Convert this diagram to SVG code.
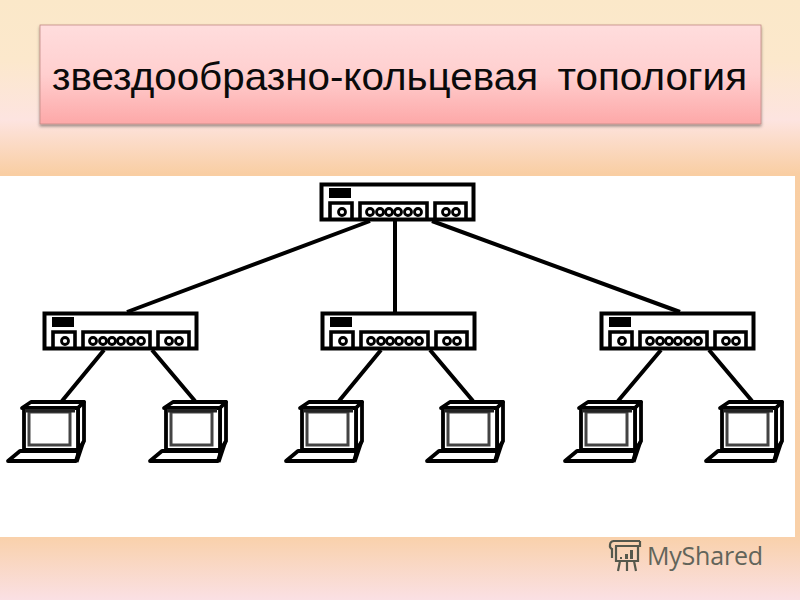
<svg xmlns="http://www.w3.org/2000/svg" xmlns:xlink="http://www.w3.org/1999/xlink" width="800" height="600" viewBox="0 0 800 600">
<style>
.k{fill:none;stroke:#000;stroke-width:3.6}
.w{fill:#fff;stroke:#000;stroke-width:3.8;stroke-linejoin:round}
.c{fill:#fff;stroke:#000;stroke-width:2.8}
.link{stroke:#000;stroke-width:4;fill:none}
.logo{fill:none;stroke:#55584c;stroke-width:2.2}
</style>
<defs>
<linearGradient id="bg" x1="0" y1="0" x2="0" y2="1">
<stop offset="0" stop-color="#fbe8c9"/><stop offset="0.1" stop-color="#fce8cc"/><stop offset="0.2" stop-color="#fde4e0"/><stop offset="0.29" stop-color="#f9cea3"/><stop offset="0.89" stop-color="#f9d0a8"/><stop offset="1" stop-color="#fae0e4"/>
</linearGradient>
<linearGradient id="title" x1="0" y1="0" x2="0" y2="1">
<stop offset="0" stop-color="#ffdddd"/><stop offset="0.5" stop-color="#ffcfcf"/><stop offset="1" stop-color="#fda8a8"/>
</linearGradient>
<filter id="sh" x="-2%" y="-5%" width="104%" height="115%"><feDropShadow dx="0" dy="2" stdDeviation="1.5" flood-color="#000" flood-opacity="0.4"/></filter>
<g id="switch">
<rect x="1.5" y="1.5" width="152" height="35" fill="#fff" stroke="#000" stroke-width="4"/>
<rect x="9" y="5" width="22" height="10"/>
<path class="k" d="M10 36V20H32V36M40 36V20H107V36M115 36V20H146V36"/>
<circle class="c" cx="22" cy="29" r="3.5"/>
<circle class="c" cx="50" cy="29" r="3.5"/><circle class="c" cx="60" cy="29" r="3.5"/><circle class="c" cx="69" cy="29" r="3.5"/><circle class="c" cx="78" cy="29" r="3.5"/><circle class="c" cx="88" cy="29" r="3.5"/><circle class="c" cx="98" cy="29" r="3.5"/>
<circle class="c" cx="126" cy="29" r="3.5"/><circle class="c" cx="136" cy="29" r="3.5"/>
</g>
<g id="laptop">
<path class="w" d="M22 408L31 402H84L78 408Z"/>
<path class="w" d="M78 408L84 402V441L78 451Z"/>
<rect class="w" x="24" y="408" width="54" height="42"/>
<rect x="29" y="412" width="41" height="33" fill="#fff" stroke="#444" stroke-width="3"/>
<rect x="25" y="409" width="50" height="3.5" fill="#222"/>
<path class="w" d="M20 451H79L76 461H8Z"/>
<path d="M78 451L84 441L77 462Z" fill="#000" stroke="#000" stroke-width="3"/>
</g>
</defs>
<rect id="background" width="800" height="600" fill="url(#bg)"/>
<rect id="panel" x="0" y="176" width="795" height="361" fill="#fff"/>
<g id="title-box">
<rect x="40" y="25" width="721" height="99" fill="url(#title)" stroke="#c08a84" stroke-width="0.8" filter="url(#sh)"/>
<text x="52" y="90" font-family="'Liberation Sans','DejaVu Sans',sans-serif" font-size="39" word-spacing="8" textLength="695" lengthAdjust="spacingAndGlyphs" fill="#0a0a0a">звездообразно-кольцевая топология</text>
</g>
<g id="connectors">
<path class="link" d="M370 221L127 312M395 221V312M432 221L680 312"/>
<path class="link" d="M104 350L62 401M152 350L195 401M381 350L339 401M430 350L473 401M661 350L618 401M709 350L752 401"/>
</g>
<g id="switch-top"><use xlink:href="#switch" href="#switch" x="320" y="183"/></g>
<g id="switch-1"><use xlink:href="#switch" href="#switch" x="43" y="312"/></g>
<g id="switch-2"><use xlink:href="#switch" href="#switch" x="321" y="312"/></g>
<g id="switch-3"><use xlink:href="#switch" href="#switch" x="600" y="312"/></g>
<g id="laptop-1"><use href="#laptop" x="0"/></g>
<g id="laptop-2"><use href="#laptop" x="142"/></g>
<g id="laptop-3"><use href="#laptop" x="278"/></g>
<g id="laptop-4"><use href="#laptop" x="419"/></g>
<g id="laptop-5"><use href="#laptop" x="557"/></g>
<g id="laptop-6"><use href="#laptop" x="698"/></g>
<g id="logo">
<path class="logo" d="M613 541H640M614 541C609 541 609 548 612 549V558M640 541V546H615M616 546V561H638V546M620 561L618 571M627 561V571M634 561L636 571"/>
<path d="M620 557h2v2h-2zM625 554h3v5h-3zM630 550h3v9h-3z" fill="#55584c"/>
<text x="647" y="565" font-family="'Open Sans','DejaVu Sans',sans-serif" font-size="25" textLength="116" fill="#62645a">MyShared</text>
</g>
</svg>
